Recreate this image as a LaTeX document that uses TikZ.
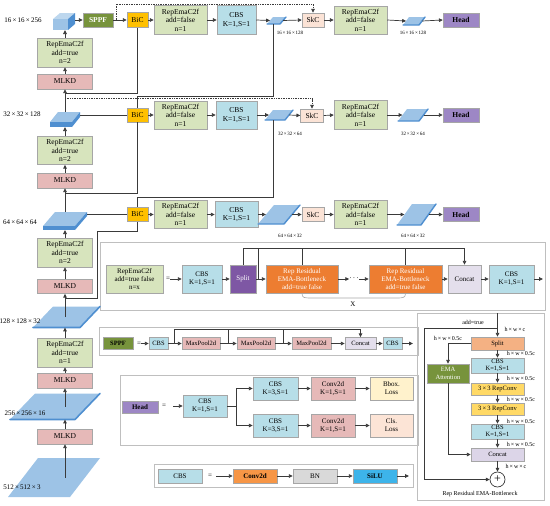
\documentclass[tikz,border=0pt]{standalone}
\usepackage{fontspec}
\setmainfont{Liberation Serif}
\usetikzlibrary{arrows.meta,calc}
\definecolor{cBorder}{HTML}{A6A6A6}
\definecolor{cLine}{HTML}{3A3A3A}
\definecolor{cPanel}{HTML}{BFBFBF}
\definecolor{cGreen}{HTML}{D7E4BD}
\definecolor{cPink}{HTML}{E6B9B8}
\definecolor{cBlue}{HTML}{B7DEE8}
\definecolor{cSPPF}{HTML}{77933C}
\definecolor{cBiC}{HTML}{FFC000}
\definecolor{cSkC}{HTML}{FBE3D6}
\definecolor{cHead}{HTML}{9D87C5}
\definecolor{cSplit}{HTML}{7E57A4}
\definecolor{cOrange}{HTML}{ED7D31}
\definecolor{cConcat}{HTML}{E4DFEC}
\definecolor{cBbox}{HTML}{FFF2CC}
\definecolor{cCls}{HTML}{FCE4D6}
\definecolor{cConv}{HTML}{F79646}
\definecolor{cBN}{HTML}{D9D9D9}
\definecolor{cSiLU}{HTML}{3DB4EA}
\definecolor{cRSplit}{HTML}{F4B183}
\definecolor{cEMA}{HTML}{77933C}
\definecolor{cRep}{HTML}{FFD966}
\definecolor{cRConcat}{HTML}{DCD5E8}
\definecolor{cFeat}{HTML}{9DC3E6}
\definecolor{cFeatT}{HTML}{BDD7EE}
\definecolor{cFeatD}{HTML}{4F8FD0}
\newcommand{\fsA}{\fontsize{7.5}{8.6}\selectfont}
\newcommand{\fsB}{\fontsize{7}{8.2}\selectfont}
\newcommand{\fsC}{\fontsize{6.5}{7.4}\selectfont}
\newcommand{\fsD}{\fontsize{5}{6}\selectfont}
\newcommand{\fsE}{\fontsize{6}{7}\selectfont}
\newcommand{\featpar}[7]{%
 \node[inner sep=0pt, outer sep=0pt, minimum width=#4pt-#6pt, minimum height=#5pt] (#1) at (#2,#3) {};
 \fill[cFeat] ({#2-#4/2},{#3+#5/2}) -- ({#2+#4/2-#6},{#3+#5/2}) -- ({#2+#4/2},{#3-#5/2}) -- ({#2-#4/2+#6},{#3-#5/2}) -- cycle;
 \ifdim#7pt>0pt
 \draw[cFeatD, line width=#7pt, line join=round, line cap=round] ({#2-#4/2},{#3+#5/2}) -- ({#2+#4/2-#6},{#3+#5/2}) -- ({#2+#4/2},{#3-#5/2});
 \fi
}
\begin{document}
\begin{tikzpicture}[x=1pt,y=-1pt,
 bx/.style={draw=cBorder, line width=0.5pt, inner sep=0pt, align=center, font=\fsA, text=black},
 sz/.style 2 args={minimum width=#1pt, minimum height=#2pt},
 gbox/.style={bx, fill=cGreen},
 pbox/.style={bx, fill=cPink},
 cbox/.style={bx, fill=cBlue},
 ln/.style={draw=cLine, line width=0.7pt},
 arr/.style={ln, -{Triangle[length=3.8pt,width=3.6pt]}},
 darr/.style={draw=cLine, line width=0.7pt, densely dotted, -{Triangle[length=3.8pt,width=3.6pt]}},
 lbl/.style={inner sep=0pt, font=\fsC},
 panel/.style={draw=cPanel, line width=0.6pt}
]
\useasboundingbox (0,0) rectangle (550,506);

% ---------- panel frames
\draw[panel] (100,242) rectangle (545,310);
\draw[panel] (99,327) rectangle (418,355);
\draw[panel] (120,375) rectangle (418,445);
\draw[panel] (154,464) rectangle (413,487);
\draw[panel] (417,313) rectangle (544,500);

% ---------- backbone features
\node[inner sep=0pt,minimum width=22pt,minimum height=17pt] (cube16) at (64,21.5) {};
\fill[cFeatT] (53,19) -- (60,13) -- (75,13) -- (68,19) -- cycle;
\fill[cFeat] (53,19) rectangle (68,30);
\fill[cFeatD] (68,19) -- (75,13) -- (75,24) -- (68,30) -- cycle;

\node[inner sep=0pt,minimum width=30pt,minimum height=15pt] (cube32) at (65,119.5) {};
\fill[cFeat] (50,122) -- (58,112) -- (80,112) -- (72,122) -- cycle;
\fill[cFeatD] (50,122) rectangle (72,127);
\fill[cFeatD] (72,122) -- (80,112) -- (80,117) -- (72,127) -- cycle;

\node[inner sep=0pt,minimum width=44pt,minimum height=18pt] (cube64) at (65,221) {};
\fill[cFeat] (43,226) -- (55,212) -- (87,212) -- (75,226) -- cycle;
\fill[cFeatD] (43,226) rectangle (75,230);
\fill[cFeatD] (75,226) -- (87,212) -- (87,216) -- (75,230) -- cycle;

\featpar{p128}{66.5}{317}{67}{21}{20}{1.6}
\featpar{p256}{55}{406.5}{90}{26}{25}{1.6}
\featpar{p512}{54}{477.5}{92}{39}{30}{0}

\node[lbl,font=\fsB] (L16) at (23,20) {16\,×\,16\,×\,256};
\node[lbl,font=\fsB] (L32) at (22,114) {32\,×\,32\,×\,128};
\node[lbl,font=\fsB] (L64) at (20,222) {64\,×\,64\,×\,64};
\node[lbl,font=\fsB] (L128) at (20,321) {128\,×\,128\,×\,32};
\node[lbl,font=\fsB] (L256) at (25,413) {256\,×\,256\,×\,16};
\node[lbl,font=\fsB] (L512) at (22,487) {512\,×\,512\,×\,3};

% ---------- backbone boxes
\node[gbox,sz={55}{29}] (bRE4) at (65,52.5) {RepEmaC2f\\add=true\\n=2};
\node[pbox,sz={55}{15}] (bM4) at (65,81.5) {MLKD};
\node[gbox,sz={55}{28}] (bRE3) at (65,150.5) {RepEmaC2f\\add=true\\n=2};
\node[pbox,sz={55}{15}] (bM3) at (65,180.5) {MLKD};
\node[gbox,sz={55}{29}] (bRE2) at (65,252.5) {RepEmaC2f\\add=true\\n=2};
\node[pbox,sz={55}{14}] (bM2) at (65,286.5) {MLKD};
\node[gbox,sz={55}{29}] (bRE1) at (65,352.5) {RepEmaC2f\\add=true\\n=1};
\node[pbox,sz={55}{15}] (bM1) at (65,380.5) {MLKD};
\node[pbox,sz={55}{15}] (bM0) at (65,436.5) {MLKD};

% backbone arrows
\draw[arr] (bM0.south |- p512.center) -- (bM0.south);
\draw[arr] (bM0.north) -- (bM0.north |- p256.south);
\draw[arr] (bM1.south |- p256.center) -- (bM1.south);
\draw[arr] (bM1.north) -- (bRE1.south);
\draw[arr] (bRE1.north) -- (bRE1.north |- p128.south);
\draw[arr] (bM2.south |- p128.center) -- (bM2.south);
\draw[arr] (bM2.north) -- (bRE2.south);
\draw[arr] (bRE2.north) -- (bRE2.north |- cube64.south);
\draw[arr] (bM3.south |- cube64.north) -- (bM3.south);
\draw[arr] (bM3.north) -- (bRE3.south);
\draw[arr] (bRE3.north) -- (bRE3.north |- cube32.south);
\draw[arr] (bM4.south |- cube32.north) -- (bM4.south);
\draw[arr] (bM4.north) -- (bRE4.south);
\draw[arr] (bRE4.north) -- (bRE4.north |- cube16.south);

% ---------- row 1
\node[bx,fill=cSPPF,sz={30}{14},font=\fsA\bfseries,text=white] (SPPF) at (98,20) {SPPF};
\node[bx,fill=cBiC,sz={21}{15}] (BiC1) at (137.5,20) {BiC};
\node[gbox,sz={53}{29}] (REa1) at (180.5,20) {RepEmaC2f\\add=false\\n=1};
\node[cbox,sz={39}{29}] (CBSa1) at (236.5,20) {CBS\\K=1,S=1};
\featpar{pa1}{276.5}{20.5}{19}{7}{6}{1.4}
\node[lbl,font=\fsD] (la1) at (290,33) {16\,×\,16\,×\,128};
\node[bx,fill=cSkC,sz={22}{14}] (SkC1) at (313,20) {SkC};
\node[gbox,sz={53}{28}] (REb1) at (360.5,20) {RepEmaC2f\\add=false\\n=1};
\featpar{pb1}{414}{21}{22}{8}{6}{1.4}
\node[lbl,font=\fsD] (lb1) at (413,33) {16\,×\,16\,×\,128};
\node[bx,fill=cHead,sz={36}{14},font=\fsA\bfseries] (Head1) at (461,20) {Head};

\draw[arr] (cube16.east |- SPPF.west) -- (SPPF.west);
\draw[arr] (SPPF.east) -- (BiC1.west);
\draw[arr] (BiC1.east) -- (REa1.west);
\draw[arr] (REa1.east) -- (CBSa1.west);
\draw[arr] (CBSa1.east) -- (pa1.west);
\draw[arr] (pa1.east) -- (SkC1.west);
\draw[arr] (SkC1.east) -- (REb1.west);
\draw[arr] (REb1.east) -- (pb1.west);
\draw[arr] (pb1.east) -- (Head1.west);

% ---------- row 2
\node[bx,fill=cBiC,sz={21}{14}] (BiC2) at (137.5,115) {BiC};
\node[gbox,sz={53}{28}] (REa2) at (180.5,115) {RepEmaC2f\\add=false\\n=1};
\node[cbox,sz={41}{28}] (CBSa2) at (236.5,115) {CBS\\K=1,S=1};
\featpar{pa2}{279}{115}{28}{10}{8}{1.4}
\node[lbl,font=\fsD] (la2) at (290,134) {32\,×\,32\,×\,64};
\node[bx,fill=cSkC,sz={23}{13}] (SkC2) at (312,115.5) {SkC};
\node[gbox,sz={53}{29}] (REb2) at (360.5,115) {RepEmaC2f\\add=false\\n=1};
\featpar{pb2}{413}{115}{30}{12}{9}{1.4}
\node[lbl,font=\fsD] (lb2) at (413,134) {32\,×\,32\,×\,64};
\node[bx,fill=cHead,sz={36}{14},font=\fsA\bfseries] (Head2) at (461,115) {Head};

\draw[ln] (cube32.east |- BiC2.west) -- (BiC2.west);
\draw[arr] (BiC2.east) -- (REa2.west);
\draw[arr] (REa2.east) -- (CBSa2.west);
\draw[arr] (CBSa2.east) -- (pa2.west);
\draw[arr] (pa2.east) -- (SkC2.west);
\draw[arr] (SkC2.east) -- (REb2.west);
\draw[arr] (REb2.east) -- (pb2.west);
\draw[arr] (pb2.east) -- (Head2.west);

% ---------- row 3
\node[bx,fill=cBiC,sz={21}{14}] (BiC3) at (137.5,214.5) {BiC};
\node[gbox,sz={53}{28}] (REa3) at (180.5,214.5) {RepEmaC2f\\add=false\\n=1};
\node[cbox,sz={43}{26}] (CBSa3) at (236.5,214.5) {CBS\\K=1,S=1};
\featpar{pa3}{279}{214.5}{42}{19}{16}{1.4}
\node[lbl,font=\fsD] (la3) at (290,236) {64\,×\,64\,×\,32};
\node[bx,fill=cSkC,sz={22}{14}] (SkC3) at (313,214.5) {SkC};
\node[gbox,sz={53}{28}] (REb3) at (360.5,214.5) {RepEmaC2f\\add=false\\n=1};
\featpar{pb3}{416.5}{214.5}{39}{21}{15}{1.4}
\node[lbl,font=\fsD] (lb3) at (413,236) {64\,×\,64\,×\,32};
\node[bx,fill=cHead,sz={36}{14},font=\fsA\bfseries] (Head3) at (461,214.5) {Head};

\draw[ln] (cube64.east |- BiC3.west) -- (BiC3.west);
\draw[arr] (BiC3.east) -- (REa3.west);
\draw[arr] (REa3.east) -- (CBSa3.west);
\draw[arr] (CBSa3.east) -- (pa3.west);
\draw[arr] (pa3.east) -- (SkC3.west);
\draw[arr] (SkC3.east) -- (REb3.west);
\draw[arr] (REb3.east) -- (pb3.west);
\draw[arr] (pb3.east) -- (Head3.west);

% ---------- cross connections
\coordinate (j1) at (65,93);
\draw[ln] (BiC1.south) |- (j1);
\coordinate (k1) at (273,96);
\draw[ln] (pa1.south -| k1) -- (k1) -| (BiC2.north);
\coordinate (d1) at (116,20);
\coordinate (dtop) at (313,4);
\draw[darr] (d1) |- (dtop) -- (SkC1.north);
\coordinate (d3) at (65,98.5);
\draw[darr] (d3) -| (SkC2.north);
\coordinate (j2) at (65,193);
\draw[ln] (BiC2.south) |- (j2);
\coordinate (k2) at (273,197);
\draw[ln] (pa2.south -| k2) -- (k2) -| (BiC3.north);
\coordinate (t3a) at (97,231);
\coordinate (t3b) at (65,298);
\draw[ln] (BiC3.south) |- (t3a) |- (t3b);

% ---------- panel 1 : RepEmaC2f
\node[gbox,sz={57}{28},font=\fsB] (P1RE) at (134.5,279) {RepEmaC2f\\add=true false\\n=x};
\node[lbl,font=\fsB] (P1eq) at (168,279) {=};
\node[cbox,sz={40}{28},font=\fsB] (P1CBS) at (202,279) {CBS\\K=1,S=1};
\node[bx,fill=cSplit,sz={26}{28},font=\fsB,text=white] (P1Split) at (243,279) {Split};
\node[bx,fill=cOrange,sz={72}{28},font=\fsB,text=white] (P1RR1) at (302,279) {Rep Residual\\EMA-Bottleneck\\add=true false};
\node[lbl,font=\fsB] (P1dots) at (354,279) {·\,·\,·};
\node[bx,fill=cOrange,sz={73}{28},font=\fsB,text=white] (P1RR2) at (405.5,279) {Rep Residual\\EMA-Bottleneck\\add=true false};
\node[bx,fill=cConcat,sz={33}{28},font=\fsB] (P1Concat) at (464.5,279) {Concat};
\node[cbox,sz={45}{28},font=\fsB] (P1CBS2) at (511.5,279) {CBS\\K=1,S=1};
\node[lbl,font=\fsB] (P1X) at (353,304) {X};
\coordinate (o1) at (543,279);
\coordinate (t1) at (464.5,248.5);
\coordinate (v1) at (258,279);
\draw[arr] (P1eq.east) -- (P1CBS.west);
\draw[arr] (P1CBS.east) -- (P1Split.west);
\draw[arr] (P1Split.east) -- (P1RR1.west);
\draw[arr] (P1RR1.east) -- (P1dots.west);
\draw[arr] (P1dots.east) -- (P1RR2.west);
\draw[arr] (P1RR2.east) -- (P1Concat.west);
\draw[arr] (P1Concat.east) -- (P1CBS2.west);
\draw[arr] (P1CBS2.east) -- (o1);
\draw[arr] (P1Split.north) |- (t1) -- (P1Concat.north);
\draw[ln] (v1) -- (v1 |- t1);
\draw[ln] (P1RR1.north) -- (P1RR1.north |- t1);
\draw[ln] (P1RR2.north) -- (P1RR2.north |- t1);
\draw[cBorder, line width=0.6pt] (P1RR1.south) .. controls (302,298) and (304,298) .. (312,298) -- (396,298) .. controls (403,298) and (405.5,298) .. (P1RR2.south);

% ---------- panel 2 : SPPF
\node[bx,fill=cSPPF,sz={30}{12},font=\fsC\bfseries] (S_SPPF) at (118,343.5) {SPPF};
\node[lbl,font=\fsB] (S_eq) at (139,343.5) {=};
\node[cbox,sz={19}{12},font=\fsC] (S_CBS1) at (158.5,343.5) {CBS};
\node[pbox,sz={38}{12},font=\fsC] (S_MP1) at (201,343.5) {MaxPool2d};
\node[pbox,sz={38}{12},font=\fsC] (S_MP2) at (256,343.5) {MaxPool2d};
\node[pbox,sz={39}{12},font=\fsC] (S_MP3) at (311.5,343.5) {MaxPool2d};
\node[bx,fill=cConcat,sz={31}{12},font=\fsC] (S_Concat) at (360.5,343.5) {Concat};
\node[cbox,sz={19}{12},font=\fsC] (S_CBS2) at (392.5,343.5) {CBS};
\coordinate (o2) at (413,343.5);
\coordinate (t2) at (360.5,329.5);
\coordinate (v2a) at (174.5,343.5);
\coordinate (v2b) at (228.5,343.5);
\coordinate (v2c) at (283.5,343.5);
\draw[arr] (S_eq.east) -- (S_CBS1.west);
\draw[arr] (S_CBS1.east) -- (S_MP1.west);
\draw[arr] (S_MP1.east) -- (S_MP2.west);
\draw[arr] (S_MP2.east) -- (S_MP3.west);
\draw[arr] (S_MP3.east) -- (S_Concat.west);
\draw[arr] (S_Concat.east) -- (S_CBS2.west);
\draw[arr] (S_CBS2.east) -- (o2);
\draw[arr] (v2a) |- (t2) -- (S_Concat.north);
\draw[ln] (v2b) -- (v2b |- t2);
\draw[ln] (v2c) -- (v2c |- t2);

% ---------- panel 3 : Head
\node[bx,fill=cHead,sz={36}{12},font=\fsB\bfseries] (H_Head) at (140,407) {Head};
\node[lbl,font=\fsB] (H_eq) at (164,406) {=};
\node[cbox,sz={44}{22},font=\fsB] (H_CBS0) at (205,406) {CBS\\K=1,S=1};
\coordinate (hb) at (236,406);
\node[cbox,sz={45}{23},font=\fsB] (H_CBSu) at (275.5,388.5) {CBS\\K=3,S=1};
\node[cbox,sz={45}{23},font=\fsB] (H_CBSl) at (275.5,425.5) {CBS\\K=3,S=1};
\node[pbox,sz={44}{23},font=\fsB] (H_Convu) at (333,388.5) {Conv2d\\K=1,S=1};
\node[pbox,sz={44}{23},font=\fsB] (H_Convl) at (333,425.5) {Conv2d\\K=1,S=1};
\node[bx,fill=cBbox,sz={43}{23},font=\fsB] (H_Bbox) at (391.5,388.5) {Bbox.\\Loss};
\node[bx,fill=cCls,sz={43}{23},font=\fsB] (H_Cls) at (391.5,425.5) {Cls.\\Loss};
\draw[arr] ([xshift=7pt]H_eq.east) -- (H_CBS0.west);
\draw[ln] (H_CBS0.east) -- (hb);
\draw[arr] (hb) |- (H_CBSu.west);
\draw[arr] (hb) |- (H_CBSl.west);
\draw[arr] (H_CBSu.east) -- (H_Convu.west);
\draw[arr] (H_Convu.east) -- (H_Bbox.west);
\draw[arr] (H_CBSl.east) -- (H_Convl.west);
\draw[arr] (H_Convl.east) -- (H_Cls.west);

% ---------- panel 4 : CBS
\node[cbox,sz={44}{14},font=\fsB] (C_CBS) at (180,476) {CBS};
\node[lbl,font=\fsB] (C_eq) at (210,476) {=};
\node[bx,fill=cConv,sz={44}{14},font=\fsB\bfseries] (C_Conv) at (255,476) {Conv2d};
\node[bx,fill=cBN,sz={44}{14},font=\fsB] (C_BN) at (315,476) {BN};
\node[bx,fill=cSiLU,sz={44}{14},font=\fsB\bfseries] (C_SiLU) at (375,476) {SiLU};
\coordinate (o4) at (409,476);
\draw[arr] ([xshift=4pt]C_eq.east) -- (C_Conv.west);
\draw[arr] (C_Conv.east) -- (C_BN.west);
\draw[arr] (C_BN.east) -- (C_SiLU.west);
\draw[arr] (C_SiLU.east) -- (o4);

% ---------- panel 5 : Rep Residual EMA-Bottleneck
\node[lbl,font=\fsE] (addt) at (473,322) {add=true};
\coordinate (in5) at (497.5,313);
\coordinate (b5) at (497.5,328);
\coordinate (c5) at (424,479.5);
\node[bx,fill=cRSplit,sz={53}{13},font=\fsC] (R_Split) at (497.5,343.5) {Split};
\node[bx,fill=cEMA,sz={42}{19},font=\fsC,text=white] (R_EMA) at (448,373.5) {EMA\\Attention};
\node[cbox,sz={53}{15},font=\fsC] (R_CBS1) at (497.5,365.5) {CBS\\K=1,S=1};
\node[bx,fill=cRep,sz={53}{12},font=\fsC] (R_Rep1) at (497.5,389) {3\,×\,3 RepConv};
\node[bx,fill=cRep,sz={53}{12},font=\fsC] (R_Rep2) at (497.5,409) {3\,×\,3 RepConv};
\node[cbox,sz={53}{15},font=\fsC] (R_CBS2) at (497.5,431.5) {CBS\\K=1,S=1};
\node[bx,fill=cRConcat,sz={53}{13},font=\fsC] (R_Concat) at (497.5,454.5) {Concat};
\node[draw=cLine,line width=0.7pt,circle,minimum size=15pt,inner sep=0pt,fill=white,font=\fontsize{12}{12}\selectfont] (R_Add) at (497.5,479.5) {+};
\draw[arr] (in5) -- (R_Split.north);
\draw[arr] (b5) -| (c5) -- (R_Add.west);
\draw[arr] (R_Split.west) -| (R_EMA.north);
\draw[arr] (R_EMA.south) |- (R_Concat.west);
\draw[arr] (R_Split.south) -- (R_CBS1.north);
\draw[arr] (R_CBS1.south) -- (R_Rep1.north);
\draw[arr] (R_Rep1.south) -- (R_Rep2.north);
\draw[arr] (R_Rep2.south) -- (R_CBS2.north);
\draw[arr] (R_CBS2.south) -- (R_Concat.north);
\draw[arr] (R_Concat.south) -- (R_Add.north);
\node[lbl,font=\fsE] (r0) at (515,329) {h\,×\,w\,×\,c};
\node[lbl,font=\fsE] (r1) at (448,338) {h\,×\,w\,×\,0.5c};
\node[lbl,font=\fsE] (r2) at (521,353.5) {h\,×\,w\,×\,0.5c};
\node[lbl,font=\fsE] (r3) at (521,378) {h\,×\,w\,×\,0.5c};
\node[lbl,font=\fsE] (r4) at (521,399) {h\,×\,w\,×\,0.5c};
\node[lbl,font=\fsE] (r5) at (521,421) {h\,×\,w\,×\,0.5c};
\node[lbl,font=\fsE] (r6) at (521,444) {h\,×\,w\,×\,0.5c};
\node[lbl,font=\fsE] (r7) at (516,466) {h\,×\,w\,×\,c};
\node[lbl,font=\fsE] (rtitle) at (480,494) {Rep Residual EMA-Bottleneck};
\end{tikzpicture}
\end{document}
